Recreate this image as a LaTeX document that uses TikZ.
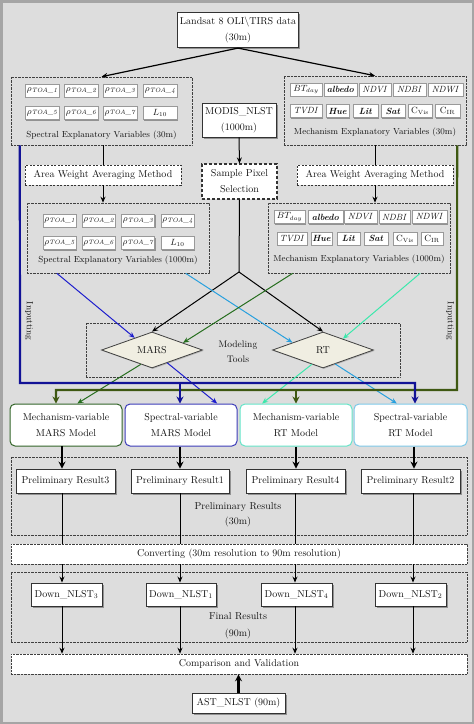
\documentclass[tikz,border=0pt]{standalone}
\usetikzlibrary{shadows,shapes.geometric,calc,arrows.meta}
\definecolor{bgc}{RGB}{221,221,221}
\definecolor{framec}{RGB}{165,165,165}
\definecolor{navyc}{RGB}{18,18,150}
\definecolor{olivec}{RGB}{62,88,18}
\definecolor{bluec}{RGB}{30,30,205}
\definecolor{cyanc}{RGB}{40,160,222}
\definecolor{greenc}{RGB}{38,110,30}
\definecolor{aquac}{RGB}{60,232,172}
\definecolor{mmc}{RGB}{50,100,40}
\definecolor{smc}{RGB}{60,60,185}
\definecolor{mrc}{RGB}{100,228,200}
\definecolor{src}{RGB}{125,200,232}
\definecolor{diamc}{RGB}{240,238,226}
\definecolor{txtc}{RGB}{20,20,20}
\newcommand\rtoa[1]{{\fontsize{9}{10}\selectfont$\rho$\raisebox{-0.6pt}{\fontsize{6.3}{7}\selectfont\textit{TOA\_#1}}}}
\tikzset{
  mainbox/.style={draw=black!80, line width=0.9pt, fill=white, inner sep=0pt, align=center,
    drop shadow={shadow xshift=1.5pt, shadow yshift=-1.5pt, fill=black!55, opacity=0.7}},
  smallbox/.style={draw=black!40, line width=0.5pt, fill=white, inner sep=0pt, minimum height=13,
    drop shadow={shadow xshift=1pt, shadow yshift=-1pt, fill=black!55, opacity=0.7}},
  mbox/.style={smallbox, font=\fontsize{9}{10}\selectfont},
  dotbox/.style={draw=black!75, line width=0.6pt, dash pattern=on 0.7pt off 0.7pt, inner sep=0pt},
  lab/.style={inner sep=0pt, font=\fontsize{8.8}{10}\selectfont},
  awbox/.style={draw=black!80, line width=0.7pt, dash pattern=on 2pt off 1.5pt, fill=white,
    inner sep=0pt, minimum width=156, minimum height=20},
  modelbox/.style={rounded corners=5pt, line width=1pt, fill=white, inner sep=0pt, align=center,
    minimum height=42},
  dia/.style={diamond, aspect=2.8, draw=black!75, line width=0.8pt, fill=diamc, inner sep=0pt,
    minimum width=101, minimum height=36,
    drop shadow={shadow xshift=1pt, shadow yshift=-1pt, fill=black!40, opacity=0.6}},
  arr/.style={-{Stealth[length=6pt,width=5pt]}, line width=1pt},
  thk/.style={-{Stealth[length=7pt,width=7pt]}, line width=2.2pt},
}
\begin{document}
\begin{tikzpicture}[x=1pt,y=-1pt, font=\fontsize{10}{16}\selectfont, text=txtc]
\useasboundingbox (0,0) rectangle (474,724);
\fill[bgc] (0,0) rectangle (474,724);
\draw[framec, line width=2.5pt] (1.25,1.25) rectangle (472.75,722.75);

% ---------- top ----------
\node[mainbox, line width=1.2pt, minimum width=121, minimum height=35] (landsat) at (238,30)
  {Landsat 8 OLI\textbackslash TIRS data\\(30m)};

% spectral 30m
\node[dotbox, minimum width=181, minimum height=68] (spec30) at (101.5,111) {};
\foreach \i/\x/\y in {1/42/90.5,2/81/90.5,3/120/90.5,4/160/90.5,5/42/113,6/81/113,7/120/113}
  \node[smallbox, minimum width=34] (sa\i) at (\x,\y) {\rtoa{\i}};
\node[mbox, minimum width=34] (sa8) at (160,113) {$L_{10}$};
\node[lab] (s30lab) at (101.5,135) {Spectral Explanatory Variables (30m)};

% mechanism 30m
\node[dotbox, minimum width=182, minimum height=69] (mech30) at (375,110.5) {};
\node[mbox, minimum width=32] (ma1) at (306,89.5) {$BT_{day}$};
\node[mbox, minimum width=33] (ma2) at (340.5,89.5) {\textbf{\textit{albedo}}};
\node[mbox, minimum width=32] (ma3) at (375,89.5) {\textit{NDVI}};
\node[mbox, minimum width=33] (ma4) at (409.5,89.5) {\textit{NDBI}};
\node[mbox, minimum width=35] (ma5) at (445.5,89.5) {\textit{NDWI}};
\node[mbox, minimum width=32] (ma6) at (306,111) {\textit{TVDI}};
\node[mbox, minimum width=23] (ma7) at (337.5,111) {\textbf{\textit{Hue}}};
\node[mbox, minimum width=25] (ma8) at (365.5,111) {\textbf{\textit{Lit}}};
\node[mbox, minimum width=24] (ma9) at (393,111) {\textbf{\textit{Sat}}};
\node[mbox, minimum width=24] (ma10) at (420,111) {C\textsubscript{Vis}};
\node[mbox, minimum width=25] (ma11) at (447.5,111) {C\textsubscript{IR}};
\node[lab] (m30lab) at (375,132) {Mechanism Explanatory Variables (30m)};

% MODIS
\node[mainbox, minimum width=74, minimum height=34] (modis) at (239,120) {MODIS\_NLST\\(1000m)};

% area weight
\node[awbox] (aw1) at (103,175) {Area Weight Averaging Method};
\node[awbox] (aw2) at (375,175) {Area Weight Averaging Method};
\node[draw=black!80, line width=1.1pt, dash pattern=on 3pt off 2pt, fill=white, inner sep=0pt,
  minimum width=75, minimum height=35, align=center] (sample) at (239.5,181.5) {Sample Pixel\\Selection};

% spectral 1000m
\node[dotbox, minimum width=182, minimum height=70] (spec1k) at (118,238) {};
\foreach \i/\x/\y in {1/59.5/220.5,2/98.5/220.5,3/138/220.5,4/177.5/220.5,5/59.5/243,6/98.5/243,7/138/243}
  \node[smallbox, minimum width=33] (sb\i) at (\x,\y) {\rtoa{\i}};
\node[mbox, minimum width=33] (sb8) at (177.5,243) {$L_{10}$};
\node[lab] (s1klab) at (118,260) {Spectral Explanatory Variables (1000m)};

% mechanism 1000m
\node[dotbox, minimum width=182, minimum height=70] (mech1k) at (359,238) {};
\node[mbox, minimum width=31] (mb1) at (289.5,217) {$BT_{day}$};
\node[mbox, minimum width=35] (mb2) at (325.5,217) {\textbf{\textit{albedo}}};
\node[mbox, minimum width=33] (mb3) at (360.5,217) {\textit{NDVI}};
\node[mbox, minimum width=31] (mb4) at (394.5,217) {\textit{NDBI}};
\node[mbox, minimum width=35] (mb5) at (429.5,217) {\textit{NDWI}};
\node[mbox, minimum width=30] (mb6) at (292,238.5) {\textit{TVDI}};
\node[mbox, minimum width=21] (mb7) at (321.5,238.5) {\textbf{\textit{Hue}}};
\node[mbox, minimum width=23] (mb8) at (348.5,238.5) {\textbf{\textit{Lit}}};
\node[mbox, minimum width=24] (mb9) at (376,238.5) {\textbf{\textit{Sat}}};
\node[mbox, minimum width=24] (mb10) at (405,238.5) {C\textsubscript{Vis}};
\node[mbox, minimum width=22] (mb11) at (432,238.5) {C\textsubscript{IR}};
\node[lab] (m1klab) at (359,259) {Mechanism Explanatory Variables (1000m)};

% modeling tools
\node[dotbox, minimum width=314, minimum height=54] (tools) at (243,350) {};
\node[inner sep=0pt, align=center, font=\fontsize{9.5}{15}\selectfont] (toolslab) at (238,352) {Modeling\\Tools};
\node[dia] (mars) at (152,350) {MARS};
\node[dia] (rt) at (323,350) {RT};

\node[rotate=-90, inner sep=0pt, font=\fontsize{9}{10}\selectfont] (inl) at (29,321) {Inputting};
\node[rotate=-90, inner sep=0pt, font=\fontsize{9}{10}\selectfont] (inr) at (450,321) {Inputting};

% models
\node[modelbox, draw=mmc, minimum width=112] (mm) at (66,425) {Mechanism-variable\\MARS Model};
\node[modelbox, draw=smc, minimum width=112] (sm) at (181,425) {Spectral-variable\\MARS Model};
\node[modelbox, draw=mrc, minimum width=112] (mr) at (296,425) {Mechanism-variable\\RT Model};
\node[modelbox, draw=src, minimum width=113] (sr) at (410.5,425) {Spectral-variable\\RT Model};

% preliminary
\node[dotbox, minimum width=456, minimum height=78] (prelim) at (239,496) {};
\node[mainbox, minimum width=99, minimum height=24] (p3) at (65.5,481) {Preliminary Result3};
\node[mainbox, minimum width=98, minimum height=24] (p1) at (180,481) {Preliminary Result1};
\node[mainbox, minimum width=99, minimum height=24] (p4) at (295.5,481) {Preliminary Result4};
\node[mainbox, minimum width=99, minimum height=24] (p2) at (410.5,481) {Preliminary Result2};
\node[inner sep=0pt, align=center, font=\fontsize{10}{15}\selectfont] (prelab) at (238,514.5) {Preliminary Results\\(30m)};

\node[dotbox, fill=white, minimum width=456, minimum height=20] (conv) at (239,554) {Converting (30m resolution to 90m resolution)};

% final
\node[dotbox, minimum width=456, minimum height=70] (final) at (239,607) {};
\node[mainbox, minimum width=71, minimum height=23] (d3) at (66.5,594.5) {Down\_NLST\textsubscript{3}};
\node[mainbox, minimum width=70, minimum height=23] (d1) at (181,594.5) {Down\_NLST\textsubscript{1}};
\node[mainbox, minimum width=71, minimum height=23] (d4) at (296.5,594.5) {Down\_NLST\textsubscript{4}};
\node[mainbox, minimum width=71, minimum height=23] (d2) at (410.5,594.5) {Down\_NLST\textsubscript{2}};
\node[inner sep=0pt, align=center, font=\fontsize{10}{17}\selectfont] (finlab) at (238,625.5) {Final Results\\(90m)};

\node[dotbox, fill=white, minimum width=456, minimum height=20] (comp) at (239,664) {Comparison and Validation};
\node[mainbox, minimum width=93, minimum height=20] (ast) at (238.5,703) {AST\_NLST (90m)};

% ---------- connectors ----------
\draw[arr, line width=1.2pt] (landsat.south) -- (spec30.north);
\draw[arr, line width=1.2pt] (landsat.south) -- (mech30.north);
\draw[line width=1pt] (aw1.north |- spec30.south) -- (aw1.north);
\draw[line width=1pt] (aw2.north |- mech30.south) -- (aw2.north);
\draw[arr] (aw1.south) -- (aw1.south |- spec1k.north);
\draw[arr] (aw2.south) -- (aw2.south |- mech1k.north);
\draw[arr] (modis.south) -- (sample.north);
\coordinate (split) at (239,272);
\draw[line width=1pt] (sample.south) -- (split);
\draw[arr] (split) -- (mars.north);
\draw[arr] (split) -- (rt.north);

\draw[arr, bluec] ($(spec1k.south west)!0.165!(spec1k.south east)$) -- ($(mars.west)!0.66!(mars.north)$);
\draw[arr, cyanc] ($(spec1k.south west)!0.87!(spec1k.south east)$) -- ($(rt.west)!0.4!(rt.north)$);
\draw[arr, greenc] ($(mech1k.south west)!0.137!(mech1k.south east)$) -- ($(mars.north)!0.61!(mars.east)$);
\draw[arr, aquac] ($(mech1k.south west)!0.835!(mech1k.south east)$) -- ($(rt.north)!0.39!(rt.east)$);

\draw[arr, greenc] ($(mars.south)!0.22!(mars.west)$) -- ($(mm.north west)!0.6!(mm.north east)$);
\draw[arr, bluec] ($(mars.south)!0.3!(mars.east)$) -- ($(sm.north west)!0.82!(sm.north east)$);
\draw[arr, aquac] ($(rt.south)!0.22!(rt.west)$) -- ($(mr.north west)!0.2!(mr.north east)$);
\draw[arr, cyanc] ($(rt.south)!0.24!(rt.east)$) -- ($(sr.north west)!0.38!(sr.north east)$);

% inputting lines
\coordinate (olvr) at (457,390);
\coordinate (olvl) at (56,390);
\draw[thk, olivec] ($(mech30.south west)!0.95!(mech30.south east)$) -- (olvr) -- (olvl) -- (olvl |- mm.north);
\draw[thk, olivec] (mr.north |- olvl) -- (mr.north);
\coordinate (navl) at (20,383);
\coordinate (navr) at (415,383);
\draw[thk, navyc] ($(spec30.south west)!0.05!(spec30.south east)$) -- (navl) -- (navr) -- (navr |- sr.north);
\draw[thk, navyc] (180,383) -- (sm.north -| 180,0);

% models to preliminary
\draw[thk, line width=2pt] (62,446) -- (p3.north -| 62,0);
\draw[thk, line width=2pt] (sm.south -| 180,0) -- (p1.north -| 180,0);
\draw[thk, line width=2pt] (mr.south) -- (mr.south |- p4.north);
\draw[thk, line width=2pt] (sr.south -| 414,0) -- (p2.north -| 414,0);

% preliminary to converting
\draw[line width=1pt] (p3.south -| 62,0) -- (conv.north -| 62,0);
\draw[line width=1pt] (p1.south -| 180,0) -- (conv.north -| 180,0);
\draw[line width=1pt] (p4.south -| 295,0) -- (conv.north -| 295,0);
\draw[line width=1pt] (p2.south -| 413,0) -- (conv.north -| 413,0);

% converting to down
\draw[arr] (conv.south -| 62,0) -- (d3.north -| 62,0);
\draw[arr] (conv.south -| 180,0) -- (d1.north -| 180,0);
\draw[arr] (conv.south -| 295,0) -- (d4.north -| 295,0);
\draw[arr] (conv.south -| 413,0) -- (d2.north -| 413,0);

% down to comparison
\draw[arr] (d3.south -| 62,0) -- (comp.north -| 62,0);
\draw[arr] (d1.south -| 180,0) -- (comp.north -| 180,0);
\draw[arr] (d4.south -| 295,0) -- (comp.north -| 295,0);
\draw[arr] (d2.south -| 413,0) -- (comp.north -| 413,0);

\draw[thk, line width=2.2pt] (ast.north) -- (ast.north |- comp.south);
\end{tikzpicture}
\end{document}
